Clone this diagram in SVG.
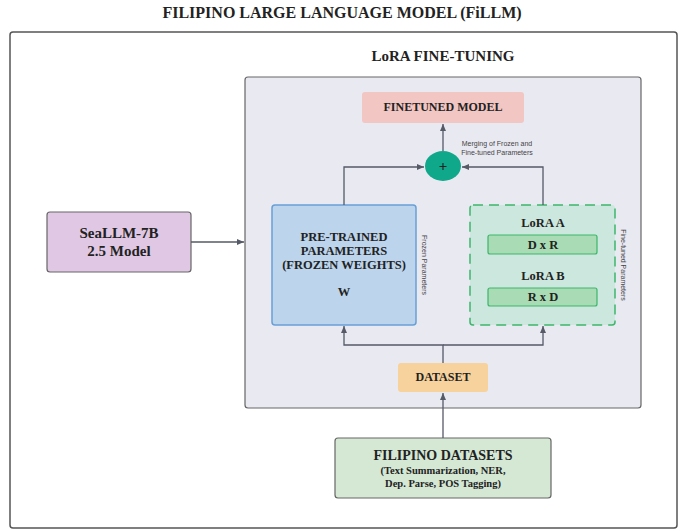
<svg xmlns="http://www.w3.org/2000/svg" width="685" height="531" viewBox="0 0 685 531">
<style>
.b{font-family:"Liberation Serif",serif;font-weight:bold;fill:#222;text-anchor:middle}
.s{font-family:"Liberation Sans",sans-serif;fill:#444;font-size:7px;text-anchor:middle}
.c{fill:none;stroke:#555a66;stroke-width:1.3}
</style>
<defs><marker id="a" markerWidth="8" markerHeight="8" refX="7" refY="4" orient="auto" markerUnits="userSpaceOnUse"><path d="M0,1 L7,4 L0,7 Z" fill="#555a66"/></marker></defs>
<rect width="685" height="531" fill="#fff"/>
<text class="b" x="342" y="18" font-size="16">FILIPINO LARGE LANGUAGE MODEL (FiLLM)</text>
<rect x="10" y="32" width="667" height="496" rx="3" fill="#fff" stroke="#555" stroke-width="1.5"/>
<text class="b" x="443" y="61" font-size="15">LoRA FINE-TUNING</text>
<rect id="panel" x="245" y="77" width="396" height="331" rx="3" fill="#e9e9f2" stroke="#666" stroke-width="1.2"/>
<g id="finetuned"><rect x="362" y="92" width="162" height="31" rx="3" fill="#f2c6c2"/><text class="b" x="443" y="111" font-size="12">FINETUNED MODEL</text></g>
<g id="plus"><ellipse cx="443" cy="166" rx="18" ry="15" fill="#0fa88a"/><text class="b" x="443" y="171" font-size="15">+</text>
<text class="s" x="497" y="146">Merging of Frozen and</text><text class="s" x="497" y="155">Fine-tuned Parameters</text></g>
<g id="pretrained"><rect x="272" y="205" width="144" height="120" rx="3" fill="#bcd4ec" stroke="#6a9fd6" stroke-width="1.5"/>
<text class="b" x="344" y="241" font-size="12.5">PRE-TRAINED</text><text class="b" x="344" y="255" font-size="12.5">PARAMETERS</text><text class="b" x="344" y="269" font-size="12.5">(FROZEN WEIGHTS)</text><text class="b" x="344" y="296" font-size="12.5">W</text>
<text class="s" transform="translate(422,265) rotate(90)">Frozen Parameters</text></g>
<g id="lora"><rect x="470" y="205" width="145" height="120" rx="3" fill="#cce8de" stroke="#3db56a" stroke-width="1.5" stroke-dasharray="10,6"/>
<text class="b" x="543" y="227" font-size="12.5">LoRA A</text>
<rect x="488" y="235" width="109" height="19" rx="2" fill="#a9dcb4" stroke="#3db56a" stroke-width="1.2"/><text class="b" x="543" y="249" font-size="12.5">D x R</text>
<text class="b" x="543" y="280" font-size="12.5">LoRA B</text>
<rect x="488" y="288" width="109" height="18" rx="2" fill="#a9dcb4" stroke="#3db56a" stroke-width="1.2"/><text class="b" x="543" y="301" font-size="12.5">R x D</text>
<text class="s" transform="translate(621,265) rotate(90)">Fine-tuned Parameters</text></g>
<g id="dataset"><rect x="398" y="363" width="90" height="29" rx="3" fill="#f7d29c"/><text class="b" x="443" y="381" font-size="12">DATASET</text></g>
<g id="filipino"><rect x="335" y="438" width="216" height="60" rx="3" fill="#d4e8d4" stroke="#666" stroke-width="1.2"/>
<text class="b" x="443" y="460" font-size="14">FILIPINO DATASETS</text><text class="b" x="443" y="474" font-size="10.5">(Text Summarization, NER,</text><text class="b" x="443" y="487" font-size="10.5">Dep. Parse, POS Tagging)</text></g>
<g id="seallm"><rect x="47" y="212" width="144" height="60" rx="3" fill="#e0c8e4" stroke="#666" stroke-width="1.2"/>
<text class="b" x="119" y="238" font-size="15">SeaLLM-7B</text><text class="b" x="119" y="256" font-size="15">2.5 Model</text></g>
<g id="connectors">
<path class="c" d="M191,242 H244" marker-end="url(#a)"/>
<path class="c" d="M344,205 V167 H424" marker-end="url(#a)"/>
<path class="c" d="M543,205 V167 H462" marker-end="url(#a)"/>
<path class="c" d="M443,151 V124" marker-end="url(#a)"/>
<path class="c" d="M443,363 V345 H344 V326" marker-end="url(#a)"/>
<path class="c" d="M443,345 H543 V326" marker-end="url(#a)"/>
<path class="c" d="M443,438 V393" marker-end="url(#a)"/>
</g>
</svg>
